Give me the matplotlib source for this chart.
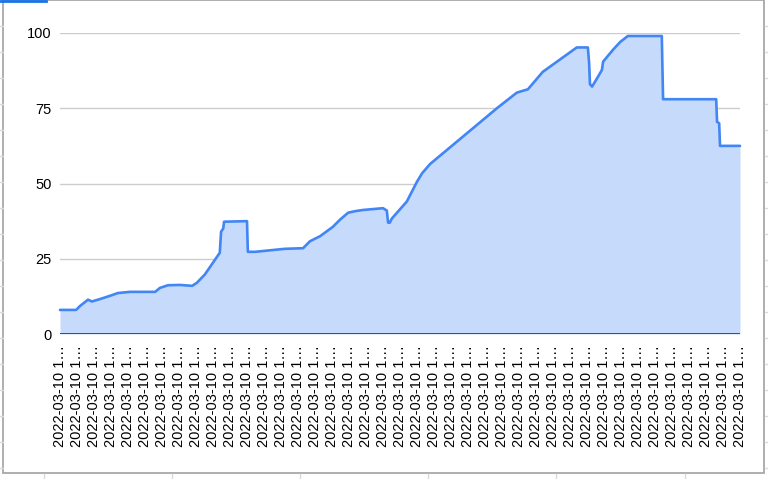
import matplotlib
matplotlib.use("Agg")
import matplotlib.pyplot as plt
from matplotlib.patches import Rectangle
from matplotlib.lines import Line2D

plt.rcParams['font.family'] = ['Liberation Sans', 'DejaVu Sans']

# sample position (category index, 0..160) and value
positions = [0, 3.8, 4.7, 5.6, 6.6, 7.5, 9.4, 11.8, 13.6, 16.5, 22.4, 23.5, 25.4, 28.2,
             31.1, 32.2, 34.1, 35.8, 37.6, 37.9, 38.4, 38.6, 44.0, 44.2, 45.9, 49.4,
             52.9, 57.2, 58.8, 61.2, 64.2, 65.9, 67.8, 69.4, 71.3, 76.0, 76.9, 77.2,
             77.6, 78.1, 81.6, 84.0, 85.2, 87.1, 102.8, 107.5, 110.1, 113.6, 121.6,
             124.2, 124.5, 124.7, 125.2, 126.6, 127.5, 127.8, 130.1, 131.8, 133.6,
             141.6, 141.9, 154.4, 154.6, 155.1, 155.3, 160]
values = [8.0, 8.0, 9.3, 10.3, 11.4, 10.8, 11.6, 12.7, 13.6, 14.0, 14.0, 15.3, 16.2, 16.3,
          16.0, 17.0, 19.8, 23.3, 27.0, 34.0, 35.0, 37.3, 37.5, 27.3, 27.3, 27.8,
          28.3, 28.5, 30.8, 32.5, 35.6, 38.0, 40.3, 40.8, 41.2, 41.8, 41.0, 37.0,
          37.0, 38.4, 44.0, 50.6, 53.4, 56.5, 75.0, 80.2, 81.3, 87.1, 95.2,
          95.2, 90.0, 83.0, 82.2, 85.5, 87.7, 90.5, 94.4, 97.0, 99.0,
          99.0, 78.0, 78.0, 70.5, 70.0, 62.5, 62.5]

tick_positions = list(range(0, 161, 4))
tick_labels = ["2022-03-10 1…"] * len(tick_positions)
y_ticks = [0, 25, 50, 75, 100]

W, H = 768, 479
fig = plt.figure(figsize=(W / 100, H / 100), dpi=100)
fig.patch.set_facecolor('white')

# spreadsheet surroundings
for xv in [44, 172, 300, 428, 556, 685]:
    fig.add_artist(Line2D([xv / W, xv / W], [0, (H - 474) / H], color='#dadada', lw=1))
for yv in range(26, 479, 26):
    fig.add_artist(Line2D([0, 3 / W], [(H - yv) / H, (H - yv) / H], color='#dadada', lw=1))
    fig.add_artist(Line2D([765 / W, 1], [(H - yv) / H, (H - yv) / H], color='#dadada', lw=1))
fig.add_artist(Rectangle((3 / W, (H - 473) / H), 761 / W, 473 / H, fill=False,
                         edgecolor='#a8a8a8', lw=1.3))
fig.add_artist(Line2D([0, 46 / W], [1 - 0.5 / H, 1 - 0.5 / H], color='#1a73e8', lw=2))

ax = fig.add_axes([60 / W, 145 / H, 680 / W, 301 / H])
ax.fill_between(positions, values, 0, color='#c6dafc', lw=0)
ax.plot(positions, values, color='#4285f4', lw=1.9, solid_joinstyle='round',
        solid_capstyle='round', clip_on=False)
ax.set_xlim(0, 160)
ax.set_ylim(0, 100)

ax.set_yticks(y_ticks)
ax.set_yticklabels([str(v) for v in y_ticks], fontsize=10.5, color='#000000')
ax.yaxis.grid(True, color='#cccccc', lw=1)
ax.axhline(0, color='#333333', lw=1.2, zorder=3)
ax.set_axisbelow(True)

ax.set_xticks(tick_positions)
ax.set_xticklabels(tick_labels, rotation=90, fontsize=10.5, color='#000000')
ax.tick_params(axis='both', length=0)
ax.tick_params(axis='y', pad=6)
ax.tick_params(axis='x', pad=8)
for s in ax.spines.values():
    s.set_visible(False)

fig.savefig('out.png', dpi=100, facecolor='white')
